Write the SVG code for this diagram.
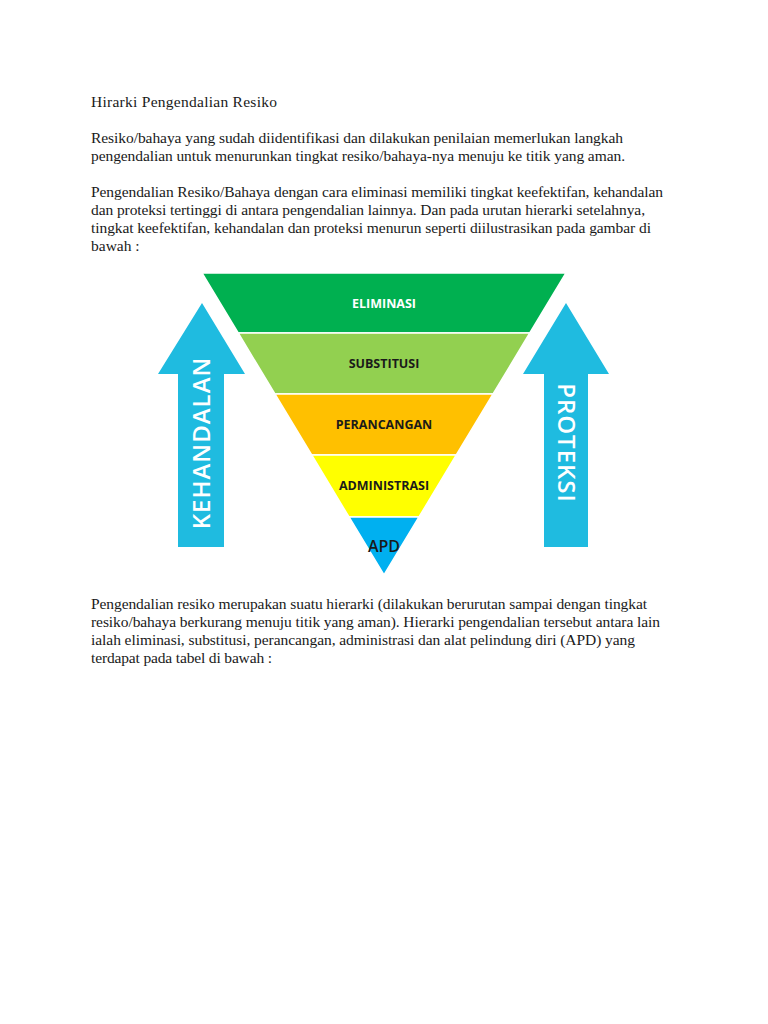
<svg xmlns="http://www.w3.org/2000/svg" width="768" height="1024" viewBox="0 0 768 1024">
<style>
.body{font-family:"Liberation Serif","Times New Roman",serif;font-size:15.5px;fill:#1a1a1a}
.lbl{font-family:"Open Sans","Noto Sans",sans-serif;font-weight:bold;font-size:12.5px;text-anchor:middle}
.arrow{fill:#1fbbe0}
.arrtxt{font-family:"Open Sans","Noto Sans",sans-serif;font-weight:600;font-size:24px;fill:#ffffff;text-anchor:middle;letter-spacing:1px}
.band{stroke:#ffffff;stroke-width:1.5}
</style>
<rect width="768" height="1024" fill="#ffffff"/>
<g id="text-top">
<text class="body" x="91" y="107" textLength="186" lengthAdjust="spacing">Hirarki Pengendalian Resiko</text>
<text class="body" x="91" y="143" textLength="532" lengthAdjust="spacing">Resiko/bahaya yang sudah diidentifikasi dan dilakukan penilaian memerlukan langkah</text>
<text class="body" x="91" y="161" textLength="534" lengthAdjust="spacing">pengendalian untuk menurunkan tingkat resiko/bahaya-nya menuju ke titik yang aman.</text>
<text class="body" x="91" y="197" textLength="572" lengthAdjust="spacing">Pengendalian Resiko/Bahaya dengan cara eliminasi memiliki tingkat keefektifan, kehandalan</text>
<text class="body" x="91" y="215" textLength="554" lengthAdjust="spacing">dan proteksi tertinggi di antara pengendalian lainnya. Dan pada urutan hierarki setelahnya,</text>
<text class="body" x="91" y="233" textLength="560" lengthAdjust="spacing">tingkat keefektifan, kehandalan dan proteksi menurun seperti diilustrasikan pada gambar di</text>
<text class="body" x="91" y="251">bawah :</text>
</g>
<g id="arrow-kehandalan">
<polygon class="arrow" points="202,303 245,374 224,374 224,547 178,547 178,374 158,374"/>
<text class="arrtxt" transform="translate(210,443) rotate(-90)">KEHANDALAN</text>
</g>
<g id="arrow-proteksi">
<polygon class="arrow" points="566,303 609,374 588,374 588,547 544,547 544,374 523,374"/>
<text class="arrtxt" transform="translate(558,443) rotate(90)">PROTEKSI</text>
</g>
<g id="band-eliminasi">
<polygon class="band" fill="#00b050" points="202,273 566,273 529.8,333 238.2,333"/>
<text class="lbl" x="384" y="308" fill="#ffffff">ELIMINASI</text>
</g>
<g id="band-substitusi">
<polygon class="band" fill="#92d050" points="238.2,333 529.8,333 493.1,394 274.9,394"/>
<text class="lbl" x="384" y="368" fill="#1a1a1a">SUBSTITUSI</text>
</g>
<g id="band-perancangan">
<polygon class="band" fill="#ffc000" points="274.9,394 493.1,394 456.3,455 311.7,455"/>
<text class="lbl" x="384" y="429" fill="#1a1a1a">PERANCANGAN</text>
</g>
<g id="band-administrasi">
<polygon class="band" fill="#ffff00" points="311.7,455 456.3,455 419,517 349,517"/>
<text class="lbl" x="384" y="490" fill="#1a1a1a">ADMINISTRASI</text>
</g>
<g id="band-apd">
<polygon class="band" fill="#00b0f0" points="349,517 419,517 384,575"/>
<text class="lbl" x="384" y="552" fill="#1a1a1a" style="font-size:16px;font-weight:600">APD</text>
</g>
<g id="connectors"></g>
<g id="text-bottom">
<text class="body" x="91" y="609" textLength="556" lengthAdjust="spacing">Pengendalian resiko merupakan suatu hierarki (dilakukan berurutan sampai dengan tingkat</text>
<text class="body" x="91" y="627" textLength="569" lengthAdjust="spacing">resiko/bahaya berkurang menuju titik yang aman). Hierarki pengendalian tersebut antara lain</text>
<text class="body" x="91" y="645" textLength="544" lengthAdjust="spacing">ialah eliminasi, substitusi, perancangan, administrasi dan alat pelindung diri (APD) yang</text>
<text class="body" x="91" y="663" textLength="181" lengthAdjust="spacing">terdapat pada tabel di bawah :</text>
</g>
</svg>
